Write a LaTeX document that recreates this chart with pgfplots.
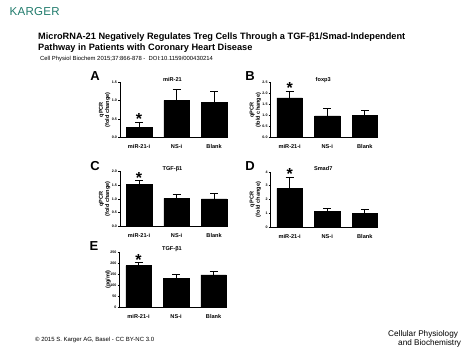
\documentclass[border=0pt]{standalone}
\usepackage{pgfplots}
\pgfplotsset{compat=1.18}
\usepackage{fontspec}
\setmainfont{Liberation Sans}
\definecolor{karger}{HTML}{1F7A6B}
\pgfplotsset{
  panel/.style={
    anchor=south west, scale only axis, width=105pt, height=55pt,
    axis lines=left, axis line style={line width=0.8pt, -},
    xmin=-0.507, xmax=2.29, ymin=0,
    xtick={0,1,2}, xticklabels={miR-21-i,NS-i,Blank},
    x tick style={draw=none},
    y tick style={line width=0.5pt, black},
    tick align=outside, major tick length=2pt,
    /pgf/number format/assume math mode=true,
    yticklabel style={font=\fontsize{3.6}{4}\selectfont\bfseries, inner sep=1pt},
    xticklabel style={font=\fontsize{5.6}{6}\selectfont\bfseries, yshift=-1.5pt},
    every axis title shift=0pt,
    title style={font=\fontsize{5.6}{6}\selectfont\bfseries, at={(axis description cs:0.5,1)}, anchor=base, yshift=1pt},
    every axis y label/.style={at={(axis description cs:-0.09,0.5)}, rotate=90, anchor=south,
      font=\fontsize{5.6}{6.2}\selectfont\bfseries, align=center, inner sep=0pt},
    clip=false,
  },
  bars/.style={ybar, bar width=0.68, bar shift=0pt, fill=black, draw=black,
    error bars/.cd, y dir=plus, y explicit,
    error bar style={line width=0.8pt},
    error mark options={rotate=90, line width=0.8pt, mark size=4pt}},
}
\newcommand{\sigstar}[2]{\node[font=\fontsize{16}{16}\selectfont\bfseries, anchor=base, inner sep=0pt, yshift=-2.5pt] at (axis cs:#1,#2) {*};}
\newcommand{\letter}[3]{\node[font=\fontsize{13}{13}\selectfont\bfseries, anchor=center, inner sep=0pt] at (#1pt,-#2pt) {#3};}
\begin{document}
\begin{tikzpicture}
\path[use as bounding box] (0,0) rectangle (474pt,-355pt);
% header
\node[anchor=west, inner sep=0pt, text=karger, font=\fontsize{11.5}{12}\selectfont] at (9.5pt,-12pt) {K\kern0.3pt A\kern0.3pt R\kern0.3pt G\kern0.3pt E\kern0.3pt R};
\node[anchor=north west, inner sep=0pt, align=left, font=\fontsize{9.2}{11}\selectfont\bfseries] at (38pt,-33pt)
  {MicroRNA-21 Negatively Regulates Treg Cells Through a TGF-β1/Smad-Independent\\Pathway in Patients with Coronary Heart Disease};
\node[anchor=west, inner sep=0pt, font=\fontsize{5.9}{6}\selectfont] at (40pt,-59.3pt)
  {Cell Physiol Biochem 2015;37:866-878 -\ \ DOI:10.1159/000430214};
% footer
\node[anchor=west, inner sep=0pt, font=\fontsize{6}{6}\selectfont] at (35pt,-340pt)
  {© 2015 S. Karger AG, Basel - CC BY-NC 3.0};
\node[anchor=west, inner sep=0pt, font=\fontsize{8.2}{8.5}\selectfont] at (388pt,-334pt) {Cellular Physiology};
\node[anchor=west, inner sep=0pt, font=\fontsize{8.2}{8.5}\selectfont] at (398pt,-343pt) {and Biochemistry};
% letters
\letter{95}{76}{A}
\letter{250}{76}{B}
\letter{95}{166}{C}
\letter{250}{166}{D}
\letter{94}{246}{E}
% Panel A
\begin{axis}[panel, at={(120pt,-137.3pt)}, ymax=1.5, ytick={0,0.5,1,1.5},
  yticklabel style={/pgf/number format/.cd, fixed, fixed zerofill, precision=1},
  title={miR-21}, ylabel={qPCR\\(fold change)}]
\addplot[bars] coordinates {(0,0.27) +- (0,0.14) (1,1.01) +- (0,0.29) (2,0.96) +- (0,0.29)};
\sigstar{0}{0.41}
\end{axis}
% Panel B
\begin{axis}[panel, at={(270.7pt,-137.7pt)}, ymax=2.5, ytick={0,0.5,1,1.5,2,2.5},
  yticklabel style={/pgf/number format/.cd, fixed, fixed zerofill, precision=1},
  title={foxp3}, ylabel={qPCR\\(fold change)}]
\addplot[bars] coordinates {(0,1.81) +- (0,0.31) (1,0.99) +- (0,0.32) (2,1.0) +- (0,0.25)};
\sigstar{0}{2.12}
\end{axis}
% Panel C
\begin{axis}[panel, at={(120pt,-226.5pt)}, ymax=2, ytick={0,0.5,1,1.5,2},
  yticklabel style={/pgf/number format/.cd, fixed, fixed zerofill, precision=1},
  title={TGF-β1}, ylabel={qPCR\\(fold change)}]
\addplot[bars] coordinates {(0,1.53) +- (0,0.14) (1,1.02) +- (0,0.13) (2,1.0) +- (0,0.2)};
\sigstar{0}{1.67}
\end{axis}
% Panel D
\begin{axis}[panel, at={(270.7pt,-227pt)}, ymax=4, ytick={0,1,2,3,4},
  title={Smad7}, ylabel={qPCR\\(fold change)}]
\addplot[bars] coordinates {(0,2.8) +- (0,0.83) (1,1.15) +- (0,0.2) (2,1.0) +- (0,0.3)};
\sigstar{0}{3.63}
\end{axis}
% Panel E
\begin{axis}[panel, at={(119.5pt,-307pt)}, ymax=250, ytick={0,50,100,150,200,250},
  title={TGF-β1}, ylabel={(pg/ml)},
  every axis y label/.append style={at={(axis description cs:-0.08,0.5)}}]
\addplot[bars] coordinates {(0,188) +- (0,14) (1,130) +- (0,19) (2,146) +- (0,14)};
\sigstar{0}{202}
\end{axis}
\end{tikzpicture}
\end{document}
